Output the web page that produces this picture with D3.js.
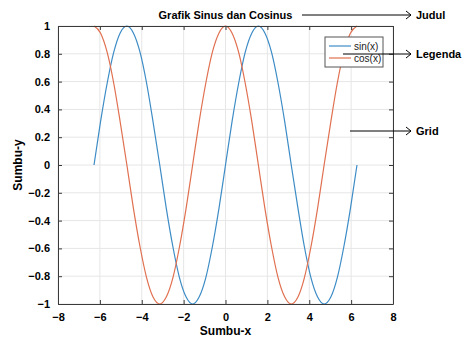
<!DOCTYPE html>
<html>
<head>
<meta charset="utf-8">
<script src="https://cdn.jsdelivr.net/npm/d3@7"></script>
<style>
  body { margin: 0; background: #fff; }
  text { font-family: "Liberation Sans", Arial, sans-serif; }
</style>
</head>
<body>
<div id="chart"></div>
<script>
const width = 474;
const height = 343;
const margin = { left: 58, right: 81, top: 26, bottom: 39 };

// values (x in radians)
const xValues = [-6.28, -5.97, -5.65, -5.34, -5.03, -4.71, -4.40, -4.08, -3.77, -3.46, -3.14,
    -2.83, -2.51, -2.20, -1.88, -1.57, -1.26, -0.94, -0.63, -0.31, 0,
    0.31, 0.63, 0.94, 1.26, 1.57, 1.88, 2.20, 2.51, 2.83, 3.14,
    3.46, 3.77, 4.08, 4.40, 4.71, 5.03, 5.34, 5.65, 5.97, 6.28];
const sinValues = [0, 0.31, 0.59, 0.81, 0.95, 1, 0.95, 0.81, 0.59, 0.31, 0,
    -0.31, -0.59, -0.81, -0.95, -1, -0.95, -0.81, -0.59, -0.31, 0,
    0.31, 0.59, 0.81, 0.95, 1, 0.95, 0.81, 0.59, 0.31, 0,
    -0.31, -0.59, -0.81, -0.95, -1, -0.95, -0.81, -0.59, -0.31, 0];
const cosValues = [1, 0.95, 0.81, 0.59, 0.31, 0, -0.31, -0.59, -0.81, -0.95, -1,
    -0.95, -0.81, -0.59, -0.31, 0, 0.31, 0.59, 0.81, 0.95, 1,
    0.95, 0.81, 0.59, 0.31, 0, -0.31, -0.59, -0.81, -0.95, -1,
    -0.95, -0.81, -0.59, -0.31, 0, 0.31, 0.59, 0.81, 0.95, 1];
const seriesNames = ["sin(x)", "cos(x)"];
const seriesColors = ["#3d8cc6", "#e07050"];
const xTicks = [-8, -6, -4, -2, 0, 2, 4, 6, 8];
const yTicks = [-1, -0.8, -0.6, -0.4, -0.2, 0, 0.2, 0.4, 0.6, 0.8, 1];

const svg = d3.select("#chart").append("svg")
    .attr("width", width)
    .attr("height", height);

const x = d3.scaleLinear().domain([-8, 8]).range([margin.left, width - margin.right]);
const y = d3.scaleLinear().domain([-1, 1]).range([height - margin.bottom, margin.top]);

// grid
svg.append("g")
    .selectAll("line.gx")
    .data(xTicks)
    .enter().append("line")
    .attr("x1", (d) => x(d)).attr("x2", (d) => x(d))
    .attr("y1", y(-1)).attr("y2", y(1))
    .attr("stroke", "#e6e6e6");
svg.append("g")
    .selectAll("line.gy")
    .data(yTicks)
    .enter().append("line")
    .attr("x1", x(-8)).attr("x2", x(8))
    .attr("y1", (d) => y(d)).attr("y2", (d) => y(d))
    .attr("stroke", "#e6e6e6");

// curves
const lineGen = (ys) => d3.line()
    .x((d, i) => x(xValues[i]))
    .y((d) => y(d))
    .curve(d3.curveMonotoneX)(ys);

const clip = svg.append("clipPath").attr("id", "clip")
    .append("rect")
    .attr("x", x(-8)).attr("y", y(1) - 1)
    .attr("width", x(8) - x(-8)).attr("height", y(-1) - y(1) + 2);

[sinValues, cosValues].forEach((ys, i) => {
    svg.append("path")
        .attr("d", lineGen(ys))
        .attr("fill", "none")
        .attr("stroke", seriesColors[i])
        .attr("stroke-width", 1.2)
        .attr("clip-path", "url(#clip)");
});

// axes
const tickFmt = (d) => d3.format("")(d);
const xAxisB = svg.append("g")
    .attr("transform", `translate(0,${y(-1)})`)
    .call(d3.axisBottom(x).tickValues(xTicks).tickSizeInner(-4).tickSizeOuter(0).tickPadding(9));
const xAxisT = svg.append("g")
    .attr("transform", `translate(0,${y(1)})`)
    .call(d3.axisTop(x).tickValues(xTicks).tickSizeInner(-4).tickSizeOuter(0).tickFormat(""));
const yAxisL = svg.append("g")
    .attr("transform", `translate(${x(-8)},0)`)
    .call(d3.axisLeft(y).tickValues(yTicks).tickSizeInner(-4).tickSizeOuter(0).tickPadding(8).tickFormat(tickFmt));
const yAxisR = svg.append("g")
    .attr("transform", `translate(${x(8)},0)`)
    .call(d3.axisRight(y).tickValues(yTicks).tickSizeInner(-4).tickSizeOuter(0).tickFormat(""));

[xAxisB, xAxisT, yAxisL, yAxisR].forEach((g) => {
    g.select(".domain").attr("stroke", "#3a3a3a").attr("stroke-width", 1);
    g.selectAll(".tick line").attr("stroke", "#3a3a3a");
    g.selectAll(".tick text")
        .attr("fill", "#000")
        .style("font-size", "11px")
        .style("font-weight", "bold");
});

// axis labels and title
svg.append("text")
    .attr("x", x(0)).attr("y", 335)
    .attr("text-anchor", "middle")
    .style("font-size", "12px").style("font-weight", "bold")
    .text("Sumbu-x");
svg.append("text")
    .attr("transform", `translate(22,${y(0)}) rotate(-90)`)
    .attr("text-anchor", "middle")
    .style("font-size", "12px").style("font-weight", "bold")
    .text("Sumbu-y");
svg.append("text")
    .attr("x", x(0)).attr("y", 19)
    .attr("text-anchor", "middle")
    .style("font-size", "11px").style("font-weight", "bold")
    .text("Grafik Sinus dan Cosinus");

// legend
const legend = svg.append("g").attr("transform", "translate(325,37)");
legend.append("rect")
    .attr("width", 58).attr("height", 30)
    .attr("fill", "#fff").attr("stroke", "#555");
seriesNames.forEach((name, i) => {
    legend.append("line")
        .attr("x1", 4).attr("x2", 26)
        .attr("y1", 9 + i * 12).attr("y2", 9 + i * 12)
        .attr("stroke", seriesColors[i]).attr("stroke-width", 1.2);
    legend.append("text")
        .attr("x", 29).attr("y", 13 + i * 12)
        .style("font-size", "10px")
        .attr("fill", "#222")
        .text(name);
});

// annotations
const notes = [
    { label: "Judul", x1: 302, x2: 411, y: 15 },
    { label: "Legenda", x1: 343, x2: 411, y: 54 },
    { label: "Grid", x1: 350, x2: 411, y: 131 }
];
notes.forEach((n) => {
    svg.append("line")
        .attr("x1", n.x1).attr("x2", n.x2)
        .attr("y1", n.y).attr("y2", n.y)
        .attr("stroke", "#000").attr("stroke-width", 1);
    svg.append("path")
        .attr("d", `M${n.x2 - 5},${n.y - 4} L${n.x2},${n.y} L${n.x2 - 5},${n.y + 4}`)
        .attr("fill", "none").attr("stroke", "#000").attr("stroke-width", 1);
    svg.append("text")
        .attr("x", n.x2 + 5).attr("y", n.y + 4)
        .style("font-size", "11px").style("font-weight", "bold")
        .text(n.label);
});
</script>
</body>
</html>
